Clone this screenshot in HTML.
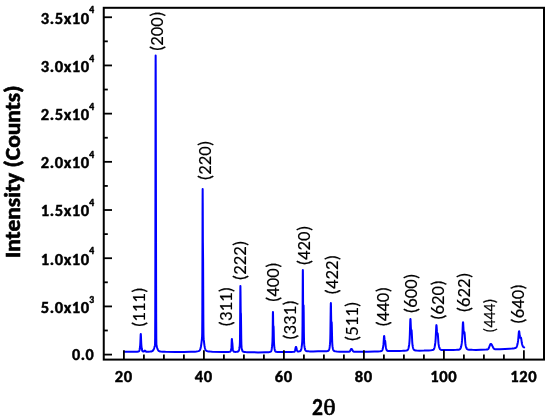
<!DOCTYPE html>
<html><head><meta charset="utf-8"><style>
html,body{margin:0;padding:0;background:#fff;width:550px;height:418px;overflow:hidden}
svg{display:block}
text{font-family:Carlito,"Liberation Sans",sans-serif;fill:#000}
.tk{font-weight:bold;font-size:16.5px;letter-spacing:0.55px;stroke:#000;stroke-width:0.45px}
.sup{font-weight:bold;font-size:9.6px;stroke:#000;stroke-width:0.5px}
.hkl{font-size:18.8px;stroke:#000;stroke-width:0.15px}
.yt{font-weight:bold;font-size:22.2px;stroke:#000;stroke-width:0.6px}
.xt{font-family:"Liberation Serif",serif;font-size:24px;stroke:#000;stroke-width:0.6px}
.x2{font-family:Carlito,"Liberation Sans",sans-serif;font-weight:bold;font-size:24.5px;stroke:#000;stroke-width:0.4px}
</style></head><body>
<svg width="550" height="418" viewBox="0 0 550 418">
<rect x="0" y="0" width="550" height="418" fill="#fff"/>
<path d="M124.00,351.70 L130.00,351.80 L136.15,351.74 L137.35,351.69 L138.20,351.59 L138.70,351.44 L139.00,351.23 L139.20,350.94 L139.35,350.61 L139.60,349.71 L139.85,348.28 L140.10,346.24 L140.25,344.40 L140.35,342.57 L140.65,335.10 L140.70,334.37 L140.77,334.00 L140.85,334.51 L140.90,335.26 L141.25,343.20 L141.35,344.82 L141.50,346.55 L141.75,348.51 L142.00,349.86 L142.15,350.41 L142.30,350.80 L142.45,351.07 L142.65,351.29 L142.85,351.42 L143.15,351.52 L143.50,351.56 L143.75,351.52 L143.95,351.42 L144.10,351.30 L144.65,350.69 L144.75,350.63 L144.88,350.60 L145.00,350.63 L145.15,350.74 L145.60,351.28 L145.85,351.51 L146.10,351.64 L146.45,351.70 L148.45,351.68 L150.30,351.58 L151.45,351.41 L151.85,351.31 L152.20,351.17 L152.60,350.92 L152.95,350.58 L153.30,350.09 L153.60,349.53 L153.90,348.81 L154.25,347.80 L154.85,345.79 L154.95,345.32 L155.05,343.85 L155.15,337.37 L155.25,314.44 L155.35,258.43 L155.55,85.58 L155.60,62.21 L155.65,55.40 L155.70,63.67 L155.75,82.65 L156.10,284.28 L156.20,321.47 L156.30,338.55 L156.40,344.06 L156.45,345.01 L156.55,345.78 L157.20,347.99 L157.70,349.34 L157.95,349.86 L158.20,350.28 L158.50,350.66 L158.80,350.94 L159.15,351.17 L159.55,351.33 L160.05,351.47 L160.65,351.56 L162.55,351.72 L165.50,351.82 L175.20,351.90 L183.75,351.88 L190.90,351.80 L193.20,351.74 L194.95,351.66 L196.40,351.54 L197.55,351.37 L198.40,351.15 L199.05,350.87 L199.50,350.53 L199.70,350.31 L199.90,350.02 L200.25,349.28 L200.55,348.33 L200.90,346.72 L201.20,344.85 L201.50,342.54 L201.95,338.52 L202.10,336.49 L202.20,332.20 L202.30,318.79 L202.35,305.67 L202.55,214.92 L202.60,197.33 L202.66,189.00 L202.75,202.61 L202.90,242.29 L203.10,261.31 L203.35,318.87 L203.40,326.48 L203.50,334.79 L203.60,337.84 L203.75,339.66 L204.30,344.30 L204.55,345.98 L204.75,347.10 L204.95,348.01 L205.15,348.75 L205.35,349.32 L205.55,349.77 L205.80,350.19 L206.05,350.49 L206.35,350.74 L206.70,350.95 L207.10,351.11 L207.55,351.25 L208.70,351.46 L210.25,351.61 L212.30,351.71 L222.60,351.88 L226.90,351.92 L229.20,351.88 L229.75,351.82 L230.10,351.72 L230.30,351.60 L230.50,351.40 L230.65,351.17 L230.80,350.85 L231.10,349.92 L231.30,348.86 L231.40,347.88 L231.50,346.26 L231.75,340.27 L231.80,339.47 L231.88,339.00 L231.95,339.37 L232.15,341.79 L232.40,343.75 L232.65,347.38 L232.80,349.03 L232.90,349.70 L233.05,350.33 L233.20,350.76 L233.40,351.19 L233.55,351.41 L233.75,351.61 L233.95,351.72 L234.20,351.81 L234.55,351.86 L235.10,351.89 L236.45,351.87 L237.40,351.76 L238.00,351.58 L238.20,351.46 L238.40,351.29 L238.70,350.84 L238.90,350.36 L239.10,349.67 L239.30,348.73 L239.50,347.54 L239.75,345.58 L239.85,344.11 L239.90,342.80 L240.00,337.69 L240.05,333.19 L240.30,293.84 L240.35,288.29 L240.41,285.90 L240.50,291.15 L240.70,311.90 L240.75,313.48 L240.80,313.65 L240.85,313.28 L240.90,313.32 L240.95,314.47 L241.25,338.16 L241.40,344.57 L241.55,346.79 L241.70,347.90 L241.90,349.02 L242.10,349.89 L242.30,350.53 L242.50,350.98 L242.75,351.35 L243.10,351.64 L243.35,351.75 L243.65,351.85 L244.45,351.99 L245.60,352.10 L247.20,352.19 L249.55,352.26 L258.00,352.40 L265.15,352.29 L267.10,352.23 L268.50,352.15 L269.55,352.03 L270.25,351.89 L270.70,351.68 L271.00,351.39 L271.25,350.94 L271.45,350.33 L271.65,349.42 L271.80,348.49 L272.00,346.90 L272.20,344.91 L272.35,343.08 L272.45,341.29 L272.60,335.67 L272.85,315.81 L272.90,313.06 L272.95,311.90 L273.00,312.52 L273.05,314.68 L273.25,327.07 L273.30,328.42 L273.35,328.73 L273.50,326.61 L273.55,326.33 L273.60,326.81 L273.70,330.09 L273.90,339.59 L274.05,343.70 L274.25,346.26 L274.60,348.93 L274.90,350.33 L275.10,350.90 L275.30,351.28 L275.50,351.51 L275.70,351.66 L275.95,351.78 L276.25,351.86 L277.25,352.00 L278.75,352.08 L280.85,352.11 L284.00,352.10 L291.40,351.92 L293.70,351.84 L294.20,351.80 L294.40,351.73 L294.55,351.62 L294.70,351.42 L294.85,351.10 L295.10,350.21 L295.65,347.52 L295.80,347.07 L295.90,346.93 L295.96,346.90 L296.05,346.94 L296.10,347.00 L296.30,347.49 L296.90,349.85 L297.15,350.66 L297.35,351.11 L297.55,351.38 L297.75,351.51 L297.95,351.55 L298.25,351.55 L298.75,351.48 L299.30,351.37 L299.75,351.25 L300.10,351.10 L300.40,350.90 L300.60,350.71 L300.80,350.42 L301.10,349.72 L301.35,348.78 L301.60,347.39 L301.90,345.05 L302.15,342.54 L302.25,341.10 L302.35,338.36 L302.50,326.60 L302.75,279.03 L302.80,272.48 L302.85,270.00 L302.90,272.02 L302.95,278.09 L303.10,306.48 L303.20,319.32 L303.25,321.59 L303.30,321.19 L303.50,307.23 L303.55,305.35 L303.60,305.58 L303.70,312.25 L303.90,333.27 L304.00,339.45 L304.10,342.56 L304.20,344.13 L304.40,345.97 L304.65,347.66 L304.95,349.09 L305.20,349.86 L305.50,350.44 L305.65,350.62 L305.85,350.80 L306.10,350.95 L306.35,351.06 L306.95,351.20 L307.70,351.30 L308.70,351.37 L310.00,351.41 L313.15,351.40 L318.00,351.30 L322.60,351.34 L325.40,351.30 L326.90,351.18 L327.45,351.09 L327.90,350.97 L328.25,350.81 L328.50,350.63 L328.70,350.41 L328.90,350.08 L329.10,349.61 L329.30,348.92 L329.50,347.98 L329.70,346.74 L330.00,344.18 L330.20,341.09 L330.30,338.10 L330.40,333.28 L330.70,309.29 L330.80,303.93 L330.86,303.00 L330.90,303.43 L330.95,305.07 L331.20,320.87 L331.30,324.60 L331.35,325.25 L331.40,325.20 L331.60,322.32 L331.65,322.15 L331.70,322.55 L331.80,325.14 L332.15,340.42 L332.25,343.02 L332.40,345.33 L332.55,346.67 L332.80,348.17 L333.05,349.23 L333.30,349.95 L333.55,350.42 L333.70,350.62 L333.90,350.81 L334.35,351.07 L334.95,351.25 L335.70,351.38 L336.70,351.49 L339.60,351.65 L345.00,351.80 L348.30,351.81 L349.00,351.77 L349.45,351.64 L349.65,351.52 L349.85,351.32 L350.20,350.80 L350.80,349.59 L351.00,349.24 L351.20,349.00 L351.30,348.94 L351.44,348.90 L351.65,348.98 L351.90,349.24 L352.80,350.81 L353.20,351.33 L353.45,351.54 L353.70,351.67 L353.95,351.75 L354.30,351.79 L368.00,351.80 L374.45,351.60 L377.95,351.46 L380.05,351.31 L380.75,351.21 L381.25,351.10 L381.60,350.96 L381.85,350.78 L382.05,350.56 L382.25,350.24 L382.45,349.79 L382.65,349.17 L383.00,347.62 L383.25,346.10 L383.45,344.43 L383.60,342.63 L383.95,337.20 L384.05,336.26 L384.13,336.00 L384.20,336.15 L384.25,336.45 L384.55,339.46 L384.65,340.14 L384.70,340.35 L384.80,340.54 L385.00,340.52 L385.05,340.58 L385.20,341.17 L385.70,346.04 L385.85,347.12 L386.00,347.93 L386.30,349.09 L386.60,349.87 L386.90,350.38 L387.10,350.59 L387.30,350.74 L387.65,350.90 L388.10,350.99 L388.80,351.06 L389.80,351.09 L392.35,351.08 L399.15,350.95 L402.50,350.85 L404.70,350.73 L406.20,350.56 L406.70,350.46 L407.10,350.33 L407.50,350.10 L407.85,349.73 L408.15,349.19 L408.40,348.51 L408.65,347.56 L408.90,346.30 L409.15,344.69 L409.35,343.03 L409.55,340.64 L409.70,337.90 L409.85,333.97 L410.20,322.35 L410.30,320.08 L410.35,319.39 L410.43,319.00 L410.50,319.38 L410.60,320.91 L410.85,326.94 L411.00,329.63 L411.05,330.15 L411.15,330.64 L411.20,330.65 L411.25,330.56 L411.40,330.08 L411.45,330.00 L411.50,330.03 L411.60,330.52 L411.65,330.99 L411.80,333.28 L412.25,341.98 L412.40,343.85 L412.60,345.53 L412.80,346.69 L413.05,347.77 L413.30,348.59 L413.55,349.18 L413.85,349.67 L414.15,349.98 L414.50,350.20 L414.95,350.35 L415.65,350.47 L416.60,350.55 L419.45,350.63 L424.00,350.60 L428.60,350.44 L430.85,350.29 L432.30,350.09 L432.75,349.98 L433.10,349.85 L433.40,349.66 L433.65,349.42 L433.90,349.07 L434.15,348.56 L434.35,348.00 L434.55,347.29 L434.80,346.15 L435.00,345.02 L435.35,342.45 L435.55,340.30 L435.70,338.06 L436.25,326.52 L436.35,325.41 L436.44,325.10 L436.50,325.27 L436.60,326.13 L436.95,331.44 L437.10,332.94 L437.15,333.22 L437.25,333.49 L437.30,333.51 L437.35,333.47 L437.50,333.25 L437.55,333.23 L437.60,333.26 L437.70,333.57 L437.80,334.24 L437.95,335.91 L438.40,342.16 L438.55,343.66 L438.70,344.81 L439.00,346.42 L439.35,347.71 L439.55,348.26 L439.75,348.69 L439.95,349.02 L440.20,349.33 L440.45,349.53 L440.75,349.70 L441.10,349.81 L441.60,349.91 L443.15,350.03 L445.50,350.06 L453.30,349.96 L456.45,349.86 L457.70,349.77 L458.65,349.66 L459.30,349.51 L459.75,349.31 L460.10,349.03 L460.40,348.63 L460.70,348.02 L460.95,347.30 L461.20,346.33 L461.45,345.09 L461.65,343.88 L461.85,342.40 L462.05,340.39 L462.20,338.27 L462.40,334.29 L462.80,324.51 L462.90,322.96 L462.95,322.49 L463.03,322.20 L463.10,322.42 L463.20,323.43 L463.55,329.88 L463.75,332.50 L463.85,333.09 L463.90,333.21 L463.95,333.23 L464.05,333.04 L464.25,332.31 L464.35,332.13 L464.40,332.16 L464.45,332.28 L464.55,332.84 L464.70,334.43 L465.20,341.74 L465.40,343.72 L465.60,345.08 L465.80,346.06 L466.00,346.84 L466.20,347.47 L466.45,348.09 L466.70,348.56 L467.00,348.96 L467.30,349.22 L467.65,349.41 L468.00,349.53 L468.50,349.63 L470.05,349.78 L472.35,349.86 L475.90,349.90 L486.00,349.62 L486.85,349.57 L487.35,349.50 L487.70,349.38 L488.00,349.20 L488.30,348.90 L488.55,348.55 L488.80,348.08 L489.05,347.51 L489.85,345.32 L490.15,344.62 L490.35,344.26 L490.50,344.08 L490.65,343.96 L490.83,343.90 L491.00,343.93 L491.20,344.07 L491.40,344.29 L491.60,344.57 L492.05,345.36 L493.15,347.52 L493.70,348.38 L494.00,348.72 L494.30,348.97 L494.65,349.15 L495.05,349.25 L495.45,349.29 L496.05,349.30 L499.85,349.18 L505.00,349.00 L509.40,348.77 L511.95,348.60 L513.00,348.49 L514.40,348.29 L515.25,348.08 L515.65,347.91 L516.00,347.66 L516.30,347.34 L516.55,346.95 L516.80,346.44 L517.05,345.77 L517.50,344.13 L517.80,342.63 L518.05,340.93 L518.30,338.57 L518.80,332.68 L518.95,331.57 L519.00,331.36 L519.09,331.20 L519.15,331.26 L519.20,331.40 L519.30,331.90 L519.75,335.76 L520.00,337.30 L520.10,337.64 L520.25,337.87 L520.30,337.88 L520.40,337.83 L520.75,337.40 L520.85,337.40 L520.90,337.46 L521.00,337.67 L521.10,338.05 L521.25,338.88 L521.85,343.04 L522.05,344.02 L522.25,344.76 L522.65,345.82 L522.85,346.22 L523.10,346.62 L523.35,346.92 L523.60,347.15 L523.85,347.31 L524.15,347.44" fill="none" stroke="#0000ff" stroke-width="2" stroke-linejoin="round" stroke-linecap="round"/>
<g stroke="#000" stroke-width="1.8">
<line x1="123.90" y1="359" x2="123.90" y2="350.20"/><line x1="143.90" y1="359" x2="143.90" y2="354.40"/><line x1="163.90" y1="359" x2="163.90" y2="354.40"/><line x1="183.90" y1="359" x2="183.90" y2="354.40"/><line x1="203.90" y1="359" x2="203.90" y2="350.20"/><line x1="223.90" y1="359" x2="223.90" y2="354.40"/><line x1="243.90" y1="359" x2="243.90" y2="354.40"/><line x1="263.90" y1="359" x2="263.90" y2="354.40"/><line x1="283.90" y1="359" x2="283.90" y2="350.20"/><line x1="303.90" y1="359" x2="303.90" y2="354.40"/><line x1="323.90" y1="359" x2="323.90" y2="354.40"/><line x1="343.90" y1="359" x2="343.90" y2="354.40"/><line x1="363.90" y1="359" x2="363.90" y2="350.20"/><line x1="383.90" y1="359" x2="383.90" y2="354.40"/><line x1="403.90" y1="359" x2="403.90" y2="354.40"/><line x1="423.90" y1="359" x2="423.90" y2="354.40"/><line x1="443.90" y1="359" x2="443.90" y2="350.20"/><line x1="463.90" y1="359" x2="463.90" y2="354.40"/><line x1="483.90" y1="359" x2="483.90" y2="354.40"/><line x1="503.90" y1="359" x2="503.90" y2="354.40"/><line x1="523.90" y1="359" x2="523.90" y2="350.20"/><line x1="104" y1="354.60" x2="112.00" y2="354.60"/><line x1="104" y1="330.50" x2="107.80" y2="330.50"/><line x1="104" y1="306.41" x2="112.00" y2="306.41"/><line x1="104" y1="282.31" x2="107.80" y2="282.31"/><line x1="104" y1="258.21" x2="112.00" y2="258.21"/><line x1="104" y1="234.12" x2="107.80" y2="234.12"/><line x1="104" y1="210.02" x2="112.00" y2="210.02"/><line x1="104" y1="185.93" x2="107.80" y2="185.93"/><line x1="104" y1="161.83" x2="112.00" y2="161.83"/><line x1="104" y1="137.73" x2="107.80" y2="137.73"/><line x1="104" y1="113.64" x2="112.00" y2="113.64"/><line x1="104" y1="89.54" x2="107.80" y2="89.54"/><line x1="104" y1="65.44" x2="112.00" y2="65.44"/><line x1="104" y1="41.35" x2="107.80" y2="41.35"/><line x1="104" y1="17.25" x2="112.00" y2="17.25"/>
</g>
<rect x="103.75" y="7.8" width="440.25" height="351.8" fill="none" stroke="#000" stroke-width="2"/>
<text x="94.3" y="359.70" text-anchor="end" class="tk" textLength="22.3" lengthAdjust="spacingAndGlyphs">0.0</text><text x="89.6" y="312.81" text-anchor="end" class="tk" textLength="48.75" lengthAdjust="spacingAndGlyphs">5.0x10</text><text x="89.2" y="302.61" class="sup" textLength="4.88" lengthAdjust="spacingAndGlyphs">3</text><text x="89.6" y="264.61" text-anchor="end" class="tk" textLength="48.75" lengthAdjust="spacingAndGlyphs">1.0x10</text><text x="89.2" y="254.41" class="sup" textLength="4.88" lengthAdjust="spacingAndGlyphs">4</text><text x="89.6" y="216.42" text-anchor="end" class="tk" textLength="48.75" lengthAdjust="spacingAndGlyphs">1.5x10</text><text x="89.2" y="206.22" class="sup" textLength="4.88" lengthAdjust="spacingAndGlyphs">4</text><text x="89.6" y="168.23" text-anchor="end" class="tk" textLength="48.75" lengthAdjust="spacingAndGlyphs">2.0x10</text><text x="89.2" y="158.03" class="sup" textLength="4.88" lengthAdjust="spacingAndGlyphs">4</text><text x="89.6" y="120.04" text-anchor="end" class="tk" textLength="48.75" lengthAdjust="spacingAndGlyphs">2.5x10</text><text x="89.2" y="109.84" class="sup" textLength="4.88" lengthAdjust="spacingAndGlyphs">4</text><text x="89.6" y="71.84" text-anchor="end" class="tk" textLength="48.75" lengthAdjust="spacingAndGlyphs">3.0x10</text><text x="89.2" y="61.64" class="sup" textLength="4.88" lengthAdjust="spacingAndGlyphs">4</text><text x="89.6" y="23.65" text-anchor="end" class="tk" textLength="48.75" lengthAdjust="spacingAndGlyphs">3.5x10</text><text x="89.2" y="13.45" class="sup" textLength="4.88" lengthAdjust="spacingAndGlyphs">4</text>
<text x="123.70" y="381.9" text-anchor="middle" class="tk" textLength="17.83" lengthAdjust="spacingAndGlyphs">20</text><text x="203.70" y="381.9" text-anchor="middle" class="tk" textLength="17.83" lengthAdjust="spacingAndGlyphs">40</text><text x="283.70" y="381.9" text-anchor="middle" class="tk" textLength="17.83" lengthAdjust="spacingAndGlyphs">60</text><text x="363.70" y="381.9" text-anchor="middle" class="tk" textLength="17.83" lengthAdjust="spacingAndGlyphs">80</text><text x="443.70" y="381.9" text-anchor="middle" class="tk" textLength="26.75" lengthAdjust="spacingAndGlyphs">100</text><text x="523.70" y="381.9" text-anchor="middle" class="tk" textLength="26.75" lengthAdjust="spacingAndGlyphs">120</text>
<text transform="translate(139.05,307.40) rotate(-90)" text-anchor="middle" dy="0.3em" class="hkl" style="font-size:18.8px" textLength="39.95" lengthAdjust="spacingAndGlyphs">(111)</text><text transform="translate(157.15,31.40) rotate(-90)" text-anchor="middle" dy="0.3em" class="hkl" style="font-size:18.8px" textLength="39.95" lengthAdjust="spacingAndGlyphs">(200)</text><text transform="translate(205.25,160.50) rotate(-90)" text-anchor="middle" dy="0.3em" class="hkl" style="font-size:18.8px" textLength="39.95" lengthAdjust="spacingAndGlyphs">(220)</text><text transform="translate(226.25,306.85) rotate(-90)" text-anchor="middle" dy="0.3em" class="hkl" style="font-size:18.8px" textLength="39.95" lengthAdjust="spacingAndGlyphs">(311)</text><text transform="translate(240.65,260.60) rotate(-90)" text-anchor="middle" dy="0.3em" class="hkl" style="font-size:18.8px" textLength="39.95" lengthAdjust="spacingAndGlyphs">(222)</text><text transform="translate(272.90,282.40) rotate(-90)" text-anchor="middle" dy="0.3em" class="hkl" style="font-size:18.8px" textLength="39.95" lengthAdjust="spacingAndGlyphs">(400)</text><text transform="translate(290.10,320.15) rotate(-90)" text-anchor="middle" dy="0.3em" class="hkl" style="font-size:18.8px" textLength="39.95" lengthAdjust="spacingAndGlyphs">(331)</text><text transform="translate(304.20,245.65) rotate(-90)" text-anchor="middle" dy="0.3em" class="hkl" style="font-size:18.8px" textLength="39.95" lengthAdjust="spacingAndGlyphs">(420)</text><text transform="translate(332.55,274.85) rotate(-90)" text-anchor="middle" dy="0.3em" class="hkl" style="font-size:18.8px" textLength="39.95" lengthAdjust="spacingAndGlyphs">(422)</text><text transform="translate(352.55,321.60) rotate(-90)" text-anchor="middle" dy="0.3em" class="hkl" style="font-size:18.8px" textLength="39.95" lengthAdjust="spacingAndGlyphs">(511)</text><text transform="translate(383.25,306.90) rotate(-90)" text-anchor="middle" dy="0.3em" class="hkl" style="font-size:18.8px" textLength="39.95" lengthAdjust="spacingAndGlyphs">(440)</text><text transform="translate(411.50,293.45) rotate(-90)" text-anchor="middle" dy="0.3em" class="hkl" style="font-size:18.8px" textLength="39.95" lengthAdjust="spacingAndGlyphs">(600)</text><text transform="translate(438.70,300.15) rotate(-90)" text-anchor="middle" dy="0.3em" class="hkl" style="font-size:18.8px" textLength="39.95" lengthAdjust="spacingAndGlyphs">(620)</text><text transform="translate(464.65,292.65) rotate(-90)" text-anchor="middle" dy="0.3em" class="hkl" style="font-size:18.8px" textLength="39.95" lengthAdjust="spacingAndGlyphs">(622)</text><text transform="translate(490.50,315.70) rotate(-90)" text-anchor="middle" dy="0.3em" class="hkl" style="font-size:16.0px" textLength="34.03" lengthAdjust="spacingAndGlyphs">(444)</text><text transform="translate(518.50,304.00) rotate(-90)" text-anchor="middle" dy="0.3em" class="hkl" style="font-size:18.8px" textLength="39.95" lengthAdjust="spacingAndGlyphs">(640)</text>
<text transform="translate(20.4,258.0) rotate(-90)" class="yt" textLength="172.5" lengthAdjust="spacingAndGlyphs">Intensity (Counts)</text>
<text transform="translate(311.9,414.6) scale(0.88,1)" class="x2" textLength="12.42" lengthAdjust="spacingAndGlyphs">2</text><text transform="translate(323.3,414.6) scale(1.08,1)" class="xt" textLength="11.5" lengthAdjust="spacingAndGlyphs">θ</text>
</svg>
</body></html>
